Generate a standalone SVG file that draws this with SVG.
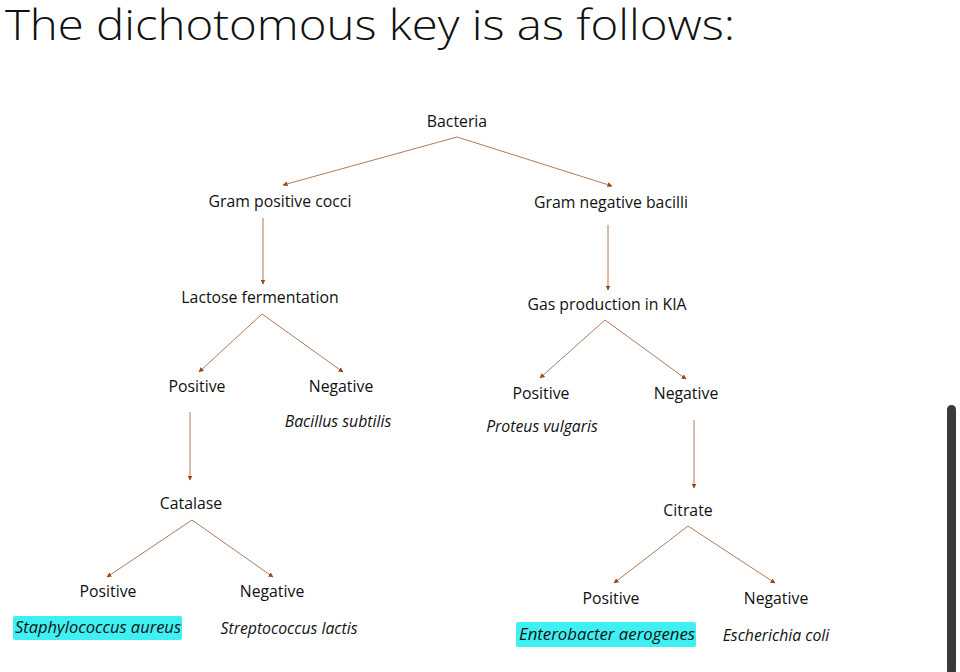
<svg xmlns="http://www.w3.org/2000/svg" width="960" height="672" viewBox="0 0 960 672">
<defs>
<marker id="ah" viewBox="0 0 10 10" refX="9" refY="5" markerWidth="5" markerHeight="5" orient="auto"><path d="M0,0L10,5L0,10z" fill="#a0421a"/></marker>
<style>
text{font-family:"Open Sans","Liberation Sans",sans-serif;font-size:15.8px;fill:#111;text-anchor:middle}
.i{font-style:italic;font-weight:500}
.hl{fill:#3ff0f2}
#connectors line{stroke:#b07a5e;stroke-width:1;marker-end:url(#ah)}
</style>
</defs>
<rect width="960" height="672" fill="#fff"/>
<text x="5" y="40" textLength="730" lengthAdjust="spacingAndGlyphs" style="font-size:42px;text-anchor:start;font-weight:300">The dichotomous key is as follows:</text>
<rect x="947" y="405" width="9" height="270" rx="4.5" fill="#3a3a3a"/>
<g id="connectors">
<line x1="457" y1="137" x2="283" y2="185"/>
<line x1="457" y1="137" x2="612" y2="186"/>
<line x1="263" y1="218" x2="263" y2="284"/>
<line x1="608" y1="225" x2="608" y2="290"/>
<line x1="262" y1="314" x2="199" y2="372"/>
<line x1="262" y1="314" x2="343" y2="372"/>
<line x1="605" y1="320" x2="540" y2="378"/>
<line x1="605" y1="320" x2="686" y2="379"/>
<line x1="190" y1="412" x2="190" y2="480"/>
<line x1="694" y1="420" x2="694" y2="488"/>
<line x1="192" y1="520" x2="107" y2="577"/>
<line x1="192" y1="520" x2="273" y2="577"/>
<line x1="688" y1="526" x2="614" y2="583"/>
<line x1="688" y1="526" x2="775" y2="583"/>
</g>
<g id="bacteria"><text x="457" y="127">Bacteria</text></g>
<g id="gpc"><text x="280" y="207">Gram positive cocci</text></g>
<g id="gnb"><text x="611" y="208">Gram negative bacilli</text></g>
<g id="lactose"><text x="260" y="303">Lactose fermentation</text></g>
<g id="gas"><text x="607" y="310">Gas production in KIA</text></g>
<g id="lpos"><text x="197" y="392">Positive</text></g>
<g id="lneg"><text x="341" y="392">Negative</text><text class="i" x="338" y="427">Bacillus subtilis</text></g>
<g id="gpos"><text x="541" y="399">Positive</text><text class="i" x="542" y="432">Proteus vulgaris</text></g>
<g id="gneg"><text x="686" y="399">Negative</text></g>
<g id="catalase"><text x="191" y="509">Catalase</text></g>
<g id="citrate"><text x="688" y="516">Citrate</text></g>
<g id="cpos"><text x="108" y="597">Positive</text><rect class="hl" x="13" y="616" width="169" height="24" rx="2"/><text class="i" x="98" y="633" textLength="166" lengthAdjust="spacingAndGlyphs">Staphylococcus aureus</text></g>
<g id="cneg"><text x="272" y="597">Negative</text><text class="i" x="289" y="634">Streptococcus lactis</text></g>
<g id="tpos"><text x="611" y="604">Positive</text><rect class="hl" x="516" y="622" width="180" height="25" rx="2"/><text class="i" x="607" y="640" textLength="176" lengthAdjust="spacingAndGlyphs">Enterobacter aerogenes</text></g>
<g id="tneg"><text x="776" y="604">Negative</text><text class="i" x="776" y="641">Escherichia coli</text></g>
</svg>
